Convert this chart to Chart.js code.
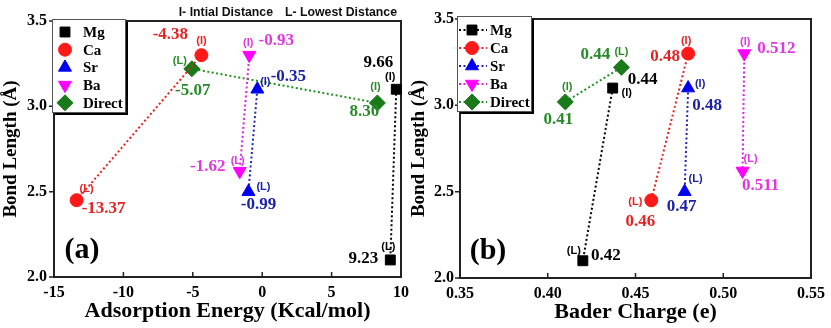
<!DOCTYPE html>
<html>
<head>
<meta charset="utf-8">
<script src="https://cdn.jsdelivr.net/npm/chart.js@4.4.0/dist/chart.umd.min.js"></script>
<style>
    html, body { margin: 0; padding: 0; background: #fff; }
    #wrap { position: relative; width: 831px; height: 328px; overflow: hidden; background: #fff; }
    canvas { position: absolute; top: 0; }
    #chartA { left: 0; }
    #chartB { left: 400px; }
</style>
</head>
<body>
<div id="wrap">
    <canvas id="chartA" width="415" height="328"></canvas>
    <canvas id="chartB" width="431" height="328"></canvas>
</div>
<script>
// data: each series has an initial (I) point then a lowest (L) point
const seriesNames = ["Mg", "Ca", "Sr", "Ba", "Direct"];
const stateTags = ["(I)", "(L)"];
const bondLength = [[3.10, 2.10], [3.30, 2.45], [3.10, 2.50], [3.30, 2.62], [3.02, 3.22]];
const adsorptionEnergy = [[9.66, 9.23], [-4.38, -13.37], [-0.35, -0.99], [-0.93, -1.62], [8.30, -5.07]];
const baderCharge = [[0.437, 0.42], [0.48, 0.459], [0.48, 0.478], [0.512, 0.511], [0.41, 0.442]];
const baderLabels = [["0.44", "0.42"], ["0.48", "0.46"], ["0.48", "0.47"], ["0.512", "0.511"], ["0.41", "0.44"]];
const energyTicks = [-15, -10, -5, 0, 5, 10];
const chargeTicks = [0.35, 0.40, 0.45, 0.50, 0.55];
const bondTicks = [2.0, 2.5, 3.0, 3.5];
const noteParts = ["I- Intial Distance", "L- Lowest Distance"];

// styles
const markerColors = ["#000000", "#ff1a1a", "#0000f0", "#ff00ff", "#1a7a1a"];
const lineColors = ["#000000", "#e82020", "#2424b0", "#e020e0", "#229022"];
const textColors = ["#000000", "#e42424", "#1c22a8", "#e038e0", "#2a8a2a"];
const markerStyles = ["rect", "circle", "triangle", "triangle", "rectRot"];
const markerRotation = [0, 0, 0, 180, 0];
const markerRadius = [7, 6.5, 7.5, 7.5, 8];

// label offsets from the point: [tagDx, tagDy, valueDx, valueDy]
const offsetsA = [
    [[-6, -12, -18, -27], [-2, -13, -27, -1]],
    [[0, -14, -31, -21], [10, -11, 27, 8]],
    [[8, -7, 31, -13], [15, -5, 10, 13]],
    [[-1, -12, 27, -15], [-2, -10, -32, -5]],
    [[-2, -16, -13, 9], [-12, -8, 1, 22]]
];
const offsetsB = [
    [[14, 5, 30, -8], [-9, -10, 23, -5]],
    [[-2, -13, -23, 3], [-16, 2, -11, 21]],
    [[12, -4, 19, 18], [11, -13, -3, 15]],
    [[1, -12, 32, -5], [8, -12, 18, 15]],
    [[2, -15, -7, 18], [0, -15, -26, -13]]
];

const SERIF = "'Liberation Serif', 'Times New Roman', serif";
const SANS = "'Liberation Sans', Arial, sans-serif";

document.addEventListener("DOMContentLoaded", function () {
    Chart.defaults.font.family = SERIF;
    Chart.defaults.color = "#000";
    renderEnergyChart();
    renderChargeChart();
});

/**
 * Frame around plot area, y ticks outward, x ticks inward
 */
const framePlugin = {
    id: "frame",
    beforeDatasetsDraw(chart) {
        const ctx = chart.ctx;
        const a = chart.chartArea;
        ctx.save();
        ctx.strokeStyle = "#222";
        ctx.lineWidth = 2;
        ctx.strokeRect(a.left, a.top, a.right - a.left, a.bottom - a.top);
        ctx.lineWidth = 1.5;
        ctx.beginPath();
        chart.scales.y.ticks.forEach(t => {
            let py = chart.scales.y.getPixelForValue(t.value);
            ctx.moveTo(a.left - 5, py);
            ctx.lineTo(a.left, py);
        });
        chart.scales.x.ticks.forEach(t => {
            let px = chart.scales.x.getPixelForValue(t.value);
            ctx.moveTo(px, a.bottom);
            ctx.lineTo(px, a.bottom - 5);
        });
        ctx.stroke();
        ctx.restore();
    }
};

/**
 * Value and (I)/(L) labels next to every point
 */
const pointLabelPlugin = {
    id: "pointLabels",
    afterDatasetsDraw(chart, args, opts) {
        const ctx = chart.ctx;
        ctx.save();
        ctx.textAlign = "center";
        ctx.textBaseline = "middle";
        chart.data.datasets.forEach((ds, i) => {
            chart.getDatasetMeta(i).data.forEach((pt, j) => {
                let off = opts.offsets[i][j];
                ctx.fillStyle = textColors[i];
                ctx.font = "bold 11px " + SANS;
                ctx.fillText(stateTags[j], pt.x + off[0], pt.y + off[1]);
                ctx.font = "bold 17px " + SERIF;
                ctx.fillText(opts.labels[i][j], pt.x + off[2], pt.y + off[3]);
            });
        });
        ctx.restore();
    }
};

/**
 * Boxed legend with shadow, panel letter and note
 */
const decorPlugin = {
    id: "decor",
    afterDraw(chart, args, opts) {
        const ctx = chart.ctx;
        const a = chart.chartArea;
        const bx = a.left + opts.boxDx, by = a.top + opts.boxDy;
        ctx.save();
        ctx.fillStyle = "#000";
        ctx.fillRect(bx + 3, by + 3, opts.boxW, opts.boxH);
        ctx.fillStyle = "#fff";
        ctx.fillRect(bx, by, opts.boxW, opts.boxH);
        ctx.strokeStyle = "#555";
        ctx.lineWidth = 1;
        ctx.strokeRect(bx + 0.5, by + 0.5, opts.boxW, opts.boxH);

        chart.data.datasets.forEach((ds, i) => {
            let iy = by + opts.firstY + i * opts.stepY;
            let mx = bx + opts.markerX;
            if (opts.showLines) {
                ctx.save();
                ctx.strokeStyle = ds.borderColor;
                ctx.lineWidth = 2;
                ctx.setLineDash([2, 2.5]);
                ctx.beginPath();
                ctx.moveTo(bx + 2, iy);
                ctx.lineTo(bx + opts.lineEnd, iy);
                ctx.stroke();
                ctx.restore();
            }
            ctx.fillStyle = ds.pointBackgroundColor;
            ctx.strokeStyle = ds.pointBorderColor;
            ctx.lineWidth = 1;
            if (Chart.helpers && Chart.helpers.drawPoint) {
                Chart.helpers.drawPoint(ctx, {
                    pointStyle: ds.pointStyle,
                    rotation: ds.pointRotation,
                    radius: ds.pointRadius,
                    borderWidth: 1
                }, mx, iy);
            } else {
                ctx.beginPath();
                ctx.arc(mx, iy, ds.pointRadius, 0, Math.PI * 2);
                ctx.fill();
            }
            ctx.fillStyle = "#000";
            ctx.font = "bold 15px " + SERIF;
            ctx.textAlign = "left";
            ctx.textBaseline = "middle";
            ctx.fillText(ds.label, bx + opts.textX, iy + 1);
        });

        ctx.font = "bold 30px " + SERIF;
        ctx.textAlign = "center";
        ctx.textBaseline = "middle";
        ctx.fillStyle = "#000";
        ctx.fillText(opts.letter, a.left + 28, a.bottom - 27);

        if (opts.note) {
            // two parts of the I/L key above the panel
            ctx.font = "bold 12.3px " + SANS;
            ctx.fillStyle = "#111";
            ctx.textAlign = "right";
            ctx.fillText(noteParts[1], a.right - 4, 13);
            ctx.fillText(noteParts[0], a.right - 128, 13);
        }
        ctx.restore();
    }
};

/**
 * Datasets from one x series plus the shared bond lengths
 */
function buildDatasets(xValues) {
    return seriesNames.map((name, i) => ({
        label: name,
        data: xValues[i].map((x, j) => ({ x: x, y: bondLength[i][j] })),
        showLine: true,
        borderColor: lineColors[i],
        borderWidth: 2,
        borderDash: [2, 2.5],
        pointStyle: markerStyles[i],
        pointRotation: markerRotation[i],
        pointRadius: markerRadius[i],
        pointHoverRadius: markerRadius[i],
        pointBackgroundColor: markerColors[i],
        pointBorderColor: markerColors[i],
        pointBorderWidth: 1,
        clip: false
    }));
}

function axisX(min, max, tickList, fmt, title, height, titlePad) {
    return {
        type: "linear",
        min: min,
        max: max,
        afterBuildTicks: s => { s.ticks = tickList.map(v => ({ value: v })); },
        afterFit: s => { s.height = height; },
        grid: { display: false, drawTicks: false },
        border: { display: false },
        ticks: { padding: 6, maxRotation: 0, autoSkip: false, font: { size: 16, weight: "bold" }, color: "#000", callback: fmt },
        title: { display: true, text: title, color: "#000", font: { size: 22, weight: "bold" }, padding: { top: 0, bottom: titlePad } }
    };
}

function axisY(width, tickPad, titlePad) {
    return {
        type: "linear",
        min: 2.0,
        max: 3.5,
        afterBuildTicks: s => { s.ticks = bondTicks.map(v => ({ value: v })); },
        afterFit: s => { s.width = width; },
        grid: { display: false, drawTicks: false },
        border: { display: false },
        ticks: { padding: tickPad, font: { size: 16, weight: "bold" }, color: "#000", callback: v => v.toFixed(1) },
        title: { display: true, text: "Bond Length (Å)", color: "#000", font: { size: 19, weight: "bold" }, padding: { top: titlePad, bottom: 0 } }
    };
}

/**
 * Panel (a): bond length vs adsorption energy
 */
function renderEnergyChart() {
    let ctx = document.getElementById("chartA").getContext("2d");
    new Chart(ctx, {
        type: "scatter",
        data: { datasets: buildDatasets(adsorptionEnergy) },
        options: {
            responsive: false,
            animation: false,
            events: [],
            layout: { padding: { top: 21, right: 14, left: 0, bottom: 0 } },
            scales: {
                x: axisX(-15, 10, energyTicks, v => String(v), "Adsorption Energy (Kcal/mol)", 51, 3),
                y: axisY(54, 7, 0)
            },
            plugins: {
                legend: { display: false },
                tooltip: { enabled: false },
                pointLabels: {
                    offsets: offsetsA,
                    labels: adsorptionEnergy.map(r => r.map(v => v.toFixed(2)))
                },
                decor: {
                    boxDx: -2, boxDy: -2, boxW: 73, boxH: 93,
                    firstY: 13, stepY: 17.7, markerX: 13, textX: 31,
                    showLines: false, letter: "(a)", note: true
                }
            }
        },
        plugins: [framePlugin, pointLabelPlugin, decorPlugin]
    });
}

/**
 * Panel (b): bond length vs Bader charge
 */
function renderChargeChart() {
    let ctx = document.getElementById("chartB").getContext("2d");
    new Chart(ctx, {
        type: "scatter",
        data: { datasets: buildDatasets(baderCharge) },
        options: {
            responsive: false,
            animation: false,
            events: [],
            layout: { padding: { top: 19, right: 17, left: 0, bottom: 0 } },
            scales: {
                x: axisX(0.35, 0.55, chargeTicks, v => v.toFixed(2), "Bader Charge (e)", 50, 2),
                y: axisY(60, 6, 8)
            },
            plugins: {
                legend: { display: false },
                tooltip: { enabled: false },
                pointLabels: { offsets: offsetsB, labels: baderLabels },
                decor: {
                    boxDx: -3, boxDy: -3, boxW: 74, boxH: 95,
                    firstY: 14, stepY: 18, markerX: 15, textX: 33, lineEnd: 30,
                    showLines: true, letter: "(b)", note: false
                }
            }
        },
        plugins: [framePlugin, pointLabelPlugin, decorPlugin]
    });
}
</script>
</body>
</html>
